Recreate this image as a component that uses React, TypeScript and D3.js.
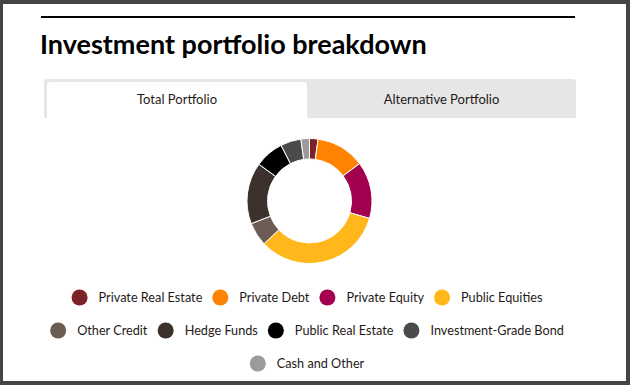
import { arc, pie, type PieArcDatum } from "d3";

const categories = [
  "Private Real Estate",
  "Private Debt",
  "Private Equity",
  "Public Equities",
  "Other Credit",
  "Hedge Funds",
  "Public Real Estate",
  "Investment-Grade Bond",
  "Cash and Other",
];
const shares = [2.2, 12.6, 14.7, 33.5, 6.1, 15.9, 7.5, 5.3, 2.2];
const colors = [
  "#7b2228",
  "#ff8300",
  "#a3004f",
  "#ffb71b",
  "#6b5d53",
  "#3c312d",
  "#000000",
  "#4b4b4b",
  "#9b9b9b",
];
const tabs = ["Total Portfolio", "Alternative Portfolio"];
const title = "Investment portfolio breakdown";

const FONT = "Lato, 'Noto Sans', sans-serif";
const TEXT = "#1f1a17";
const LEGEND_SIZE = 12.7;

type Slice = { name: string; value: number; color: string };

function measure(text: string, size: number) {
  const ctx = document.createElement("canvas").getContext("2d");
  if (!ctx) return text.length * size * 0.5;
  ctx.font = `${size}px Lato`;
  return ctx.measureText(text).width;
}

export default function App() {
  const width = 630;
  const height = 385;
  const cx = 309.5;
  const cy = 201;
  const outer = 62.5;
  const inner = 42;

  const data: Slice[] = categories.map((name, i) => ({ name, value: shares[i], color: colors[i] }));
  const arcs = pie<Slice>().sort(null).value((d) => d.value)(data);
  const path = arc<PieArcDatum<Slice>>().innerRadius(inner).outerRadius(outer);

  // legend: flex-wrap style rows, each centred
  const legendLeft = 44;
  const legendWidth = 531;
  const itemW = data.map((d) => 16 + 11 + measure(d.name, LEGEND_SIZE) + 10);
  const rows: number[][] = [];
  let cur: number[] = [];
  let w = 0;
  itemW.forEach((iw, i) => {
    if (cur.length && w + iw > legendWidth) {
      rows.push(cur);
      cur = [];
      w = 0;
    }
    cur.push(i);
    w += iw;
  });
  if (cur.length) rows.push(cur);

  const tabX = [47, 307, 576];

  return (
    <div style={{ position: "fixed", left: 0, top: 0 }}>
      <svg width={width} height={height} style={{ display: "block", fontFamily: FONT }}>
        <rect x={0} y={0} width={width} height={height} fill="#444" />
        <rect x={3} y={4} width={623} height={377} fill="#fff" />
        <rect x={41} y={16} width={534} height={2} fill="#000" />
        <text x={40} y={54} fontSize={27} fontWeight={700} fill="#000">
          {title}
        </text>

        {/* tabs */}
        <path d="M44,118 V82 Q44,79 47,79 H573 Q576,79 576,82 V118 Z" fill="#e6e6e6" />
        <path d={`M${tabX[0]},118 V85 Q${tabX[0]},82 ${tabX[0] + 3},82 H${tabX[1] - 3} Q${tabX[1]},82 ${tabX[1]},85 V118 Z`} fill="#fff" />
        {tabs.map((t, i) => (
          <text
            key={t}
            x={(tabX[i] + tabX[i + 1]) / 2}
            y={99}
            dy="0.35em"
            textAnchor="middle"
            fontSize={13}
            fill={TEXT}
          >
            {t}
          </text>
        ))}

        {/* donut */}
        <g transform={`translate(${cx},${cy})`}>
          {arcs.map((a) => (
            <path key={a.data.name} d={path(a) ?? ""} fill={a.data.color} stroke="#fff" strokeWidth={1} />
          ))}
        </g>

        {/* legend */}
        {rows.map((row, r) => {
          const total = row.reduce((s, i) => s + itemW[i], 0);
          let x = legendLeft + (legendWidth - total) / 2 + 2.5;
          const y = 297.5 + r * 33;
          return row.map((i) => {
            const x0 = x;
            x += itemW[i];
            return (
              <g key={data[i].name}>
                <circle cx={x0 + 8} cy={y} r={8} fill={data[i].color} />
                <text x={x0 + 27} y={y} dy="0.35em" fontSize={LEGEND_SIZE} fill={TEXT}>
                  {data[i].name}
                </text>
              </g>
            );
          });
        })}
      </svg>
    </div>
  );
}
